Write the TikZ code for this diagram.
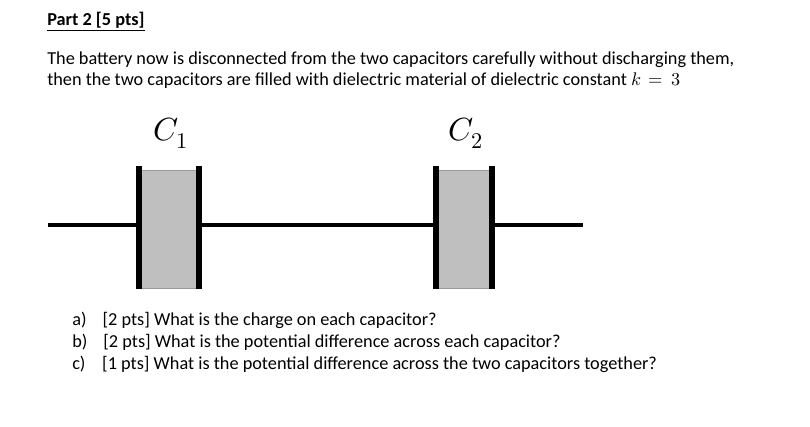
\documentclass[tikz,border=0pt]{standalone}
\usepackage{fontspec}
\setmainfont{Carlito}
\usepackage{unicode-math}
\setmathfont{Latin Modern Math}
\begin{document}
\begin{tikzpicture}[x=0.75pt,y=-0.75pt,
  txt/.style={anchor=west,inner sep=0,font=\fontsize{13.7}{16}\selectfont},
  plate/.style={line width=3.8pt},
  wire/.style={line width=3pt},
  diel/.style={fill=black!25,draw=black!40,line width=0.6pt}]
\useasboundingbox (0,0) rectangle (810,426);
\node[txt] (title) at (47,22) {\textbf{\underline{Part 2 [5 pts]}}};
\node[txt] (l1) at (47,60) {The battery now is disconnected from the two capacitors carefully without discharging them,};
\node[txt] (l2) at (47,81) {then the two capacitors are filled with dielectric material of dielectric constant $k\,=\,3$};
\draw[diel] (141,170) rectangle (196,288);
\draw[diel] (438,170) rectangle (489,288);
\coordinate (wl) at (48,225);
\coordinate (wr) at (583,225);
\coordinate (p1a) at (139,225);
\coordinate (p1b) at (199,225);
\coordinate (p2a) at (436,225);
\coordinate (p2b) at (492,225);
\draw[wire] (wl) -- (p1a);
\draw[wire] (p1b) -- (p2a);
\draw[wire] (p2b) -- (wr);
\draw[plate] (139,166) -- (139,289);
\draw[plate] (199,166) -- (199,289);
\draw[plate] (436,166) -- (436,289);
\draw[plate] (492,166) -- (492,289);
\node (c1) at (171,133) {\fontsize{24}{28}\selectfont$C_1$};
\node (c2) at (466,133) {\fontsize{24}{28}\selectfont$C_2$};
\node[txt] (a) at (72,320) {a)\hspace{12pt}[2 pts] What is the charge on each capacitor?};
\node[txt] (b) at (72,342) {b)\hspace{12pt}[2 pts] What is the potential difference across each capacitor?};
\node[txt] (c) at (72,364) {c)\hspace{12.5pt}[1 pts] What is the potential difference across the two capacitors together?};
\end{tikzpicture}
\end{document}
